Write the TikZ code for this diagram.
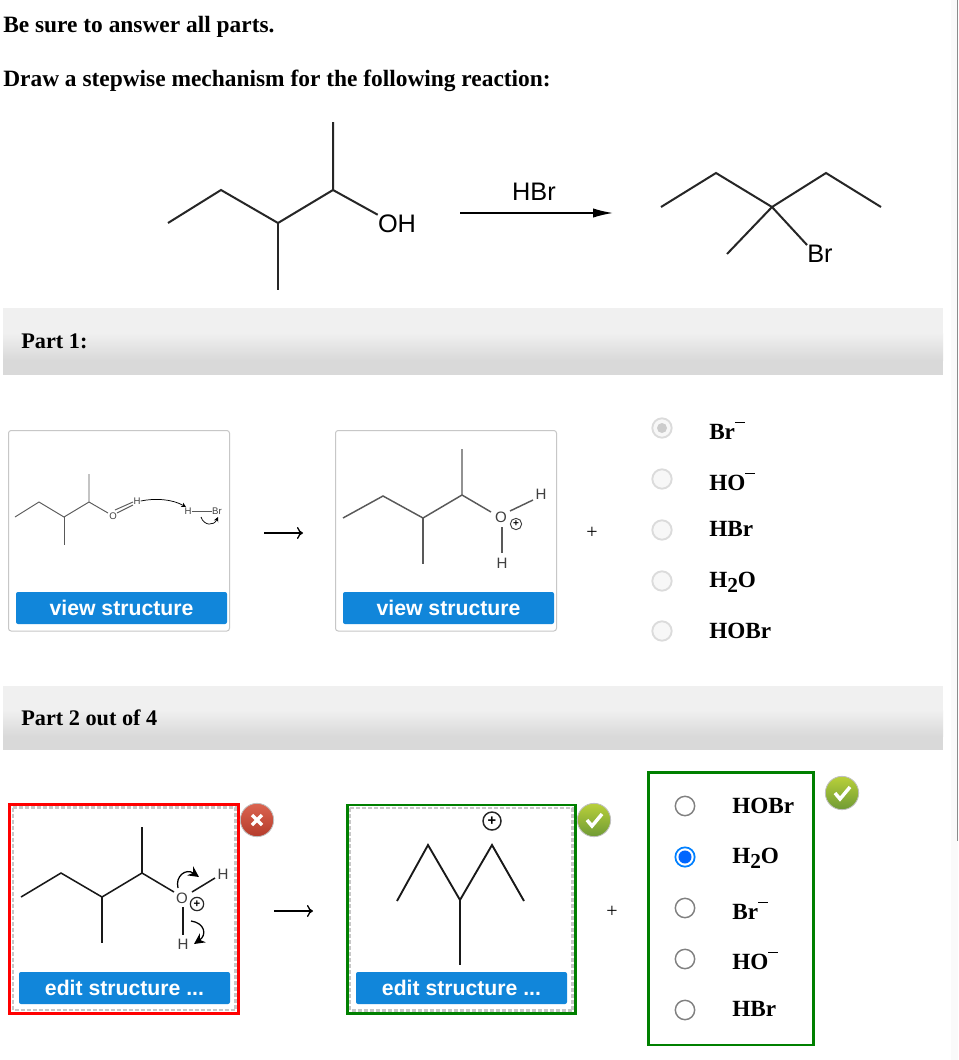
\documentclass[tikz,border=0pt]{standalone}
\usepackage{fontspec}
\setmainfont{Liberation Serif}
\setsansfont{Liberation Sans}
\usetikzlibrary{arrows.meta,shadings}
\definecolor{btn}{HTML}{1186DA}
\definecolor{okgreen}{HTML}{008000}
\definecolor{bandtop}{HTML}{F0F0F0}
\definecolor{bandbot}{HTML}{D9D9D9}
\definecolor{oktop}{HTML}{B9D03A}
\definecolor{okbot}{HTML}{6F9A35}
\definecolor{notop}{HTML}{DB6450}
\definecolor{nobot}{HTML}{B53C2C}
\newcommand\supm{\raisebox{12.3pt}{\rule{7.5pt}{0.8pt}}}
\newcommand\subtwo{\raisebox{-4pt}{\fontsize{16pt}{18pt}\selectfont 2}}
\tikzset{
  x=0.75pt,y=-0.75pt,
  head/.style={font=\fontsize{17.55pt}{20pt}\selectfont\bfseries,anchor=base west,inner sep=0pt},
  parthead/.style={font=\fontsize{16.7pt}{20pt}\selectfont\bfseries,anchor=base west,inner sep=0pt},
  opt/.style={font=\fontsize{17.4pt}{20pt}\selectfont\bfseries,anchor=base west,inner sep=0pt},
  big/.style={font=\sffamily\fontsize{19pt}{20pt}\selectfont,inner sep=0pt},
  atomA/.style={font=\sffamily\fontsize{7.2pt}{9pt}\selectfont,inner sep=0pt,text=black!75},
  atomB/.style={font=\sffamily\fontsize{11.3pt}{12pt}\selectfont,inner sep=0pt,text=black!75},
  bondmain/.style={line width=1.5pt,black!85},
  bondA/.style={line width=0.7pt,black!65},
  bondB/.style={line width=1.1pt,black!65},
  bondC/.style={line width=1.15pt,black!90},
  btnnode/.style={fill=btn,rounded corners=1.5pt,text=white,font=\sffamily\bfseries\fontsize{15.9pt}{18pt}\selectfont,inner sep=0pt,minimum width=158.25pt,minimum height=24pt},
  panel/.style={draw=black!22,line width=0.75pt,rounded corners=2pt,fill=white},
  dashbox/.style={draw=black!22,line width=1.9pt,dash pattern=on 3pt off 1.5pt},
  radioA/.style={circle,draw=black!14,line width=1.4pt,fill=black!3,minimum size=14.5pt,inner sep=0pt},
  radioB/.style={circle,draw=black!50,line width=1.1pt,fill=white,minimum size=14.5pt,inner sep=0pt},
  plainarrow/.style={-{To[length=4.5pt,width=9pt]},line width=1pt},
  curly/.style={line width=0.95pt,-{Stealth[length=8pt,width=8pt]}},
  curlysmall/.style={line width=0.55pt,-{Stealth[length=3.5pt,width=3.5pt]}},
  plus/.style={font=\fontsize{15pt}{16pt}\selectfont,inner sep=0pt},
  okbadge/.style={circle,minimum size=25pt,inner sep=0pt,top color=oktop,bottom color=okbot,draw=black!25,line width=0.6pt},
  nobadge/.style={circle,minimum size=25pt,inner sep=0pt,top color=notop,bottom color=nobot,draw=black!25,line width=0.6pt},
}
\begin{document}
\begin{tikzpicture}
\useasboundingbox (0,0) rectangle (958,1060);
\fill[white] (0,0) rectangle (958,1060);
% page edge
\fill[black!2] (951,0) rectangle (958,1060);
\fill[black!45] (957,0) rectangle (958,841);
% headings
\node[head] (q1) at (3,32) {Be sure to answer all parts.};
\node[head] (q2) at (3,86) {Draw a stepwise mechanism for the following reaction:};
% reaction
\draw[bondmain,line join=miter] (168,223)--(221,190)--(278,223)--(333,190)--(333,122);
\draw[bondmain] (278,223)--(278,290);
\node[big] (oh) at (397,224) {OH};
\draw[bondmain] (333,190)--(oh.north west);
\coordinate (rs) at (460,213);
\coordinate (re) at (613,213);
\draw[line width=1.1pt,-{Latex[length=15pt,width=7pt]}] (rs)--(re);
\node[big] (hbr) at (534,192) {HBr};
\draw[bondmain,line join=miter] (661,207)--(716,173)--(772,207)--(826,173)--(881,207);
\draw[bondmain] (772,207)--(727,254);
\node[big] (br) at (820,254) {Br};
\draw[bondmain] (772,207)--(br.north west);
% band 1
\fill[bandtop] (3,308) rectangle (943,333);
\shade[top color=bandtop,bottom color=bandbot] (3,333) rectangle (943,360);
\fill[bandbot] (3,360) rectangle (943,375);
\node[parthead] (p1) at (21,348) {Part 1:};
% panel 1
\draw[panel] (8.5,430.5) rectangle (229.5,631);
\draw[bondA,line join=miter] (15,517)--(39,502)--(64,517)--(89,502)--(89,474);
\draw[bondA] (64,517)--(64,545);
\draw[bondA] (89,502)--(108,513);
\node[atomA] (a1o) at (113,516) {O};
\node[atomA] (a1h) at (137,501) {H};
\draw[bondA] (115,510)--(133,502);
\draw[bondA] (117,513)--(133,505);
\node[atomA] (a1h2) at (188,511) {H};
\node[atomA] (a1br) at (217,511) {Br};
\draw[bondA] (a1h2)--(a1br);
\draw[curlysmall,black] (a1h.east) .. controls (155,498) and (172,499) .. (186,507);
\draw[curlysmall,black] (201,517) .. controls (204,526) and (214,526) .. (218,517);
\node[btnnode] (b1) at (121.5,608) {\raisebox{.75pt}{view structure}};
% arrow 1
\coordinate (a1s) at (264,533);
\coordinate (a1e) at (303,533);
\draw[plainarrow] (a1s)--(a1e);
% panel 2
\draw[panel] (335.5,430.5) rectangle (556.5,631);
\draw[bondB,line join=miter] (343,518)--(383,496)--(423,518)--(462,495)--(462,449);
\draw[bondB] (423,518)--(423,564);
\draw[bondB] (462,495)--(491,512);
\node[atomB] (a2o) at (501,517) {O};
\node[atomB] (a2h) at (541,494) {H};
\node[atomB] (a2h2) at (502,563) {H};
\draw[bondB] (510,511)--(533,500);
\draw[bondB] (502,527)--(502,553);
\node[circle,draw=black!75,line width=0.7pt,minimum size=8.5pt,inner sep=0pt,font=\sffamily\bfseries\fontsize{7.5pt}{7.5pt}\selectfont] (a2p) at (516,524) {+};
\node[btnnode] (b2) at (448.5,608) {\raisebox{.75pt}{view structure}};
\node[plus] (plus1) at (592,533) {+};
% radios 1
\node[radioA] (r11) at (662,428) {};
\fill[black!20] (r11) circle (3.75pt);
\node[radioA] (r12) at (662,479) {};
\node[radioA] (r13) at (662,530) {};
\node[radioA] (r14) at (662,581) {};
\node[radioA] (r15) at (662,631) {};
\node[opt] (t11) at (709,439) {Br\supm};
\node[opt] (t12) at (709,490) {HO\supm};
\node[opt] (t13) at (709,536) {HBr};
\node[opt] (t14) at (709,587) {H\subtwo O};
\node[opt] (t15) at (709,638) {HOBr};
% band 2
\fill[bandtop] (3,686) rectangle (943,710);
\shade[top color=bandtop,bottom color=bandbot] (3,710) rectangle (943,736);
\fill[bandbot] (3,736) rectangle (943,750);
\node[parthead] (p2) at (21,725) {Part 2 out of 4};
% panel 3
\draw[dashbox] (13,807.5) rectangle (235.5,1010);
\draw[red,line width=2.2pt] (9.5,804.5) rectangle (238.5,1013.5);
\draw[bondC,line join=miter] (21,897)--(61,873)--(102,897)--(142,873)--(142,827);
\draw[bondC] (102,897)--(102,943);
\draw[bondC] (142,873)--(174,892);
\node[atomB] (a3o) at (182,898) {O};
\node[atomB] (a3h) at (223,874) {H};
\node[atomB] (a3h2) at (183,944) {H};
\draw[bondC] (192,892)--(215,878);
\draw[bondC] (183,907)--(183,935);
\node[circle,draw=black!85,line width=0.9pt,minimum size=10pt,inner sep=0pt,font=\sffamily\bfseries\fontsize{8.5pt}{8.5pt}\selectfont] (a3p) at (197,904) {+};
\draw[curly] (178,888) .. controls (175,876) and (186,868) .. (199,877);
\draw[curly] (191,921) .. controls (205,923) and (207,935) .. (194,944);
\node[btnnode] (b3) at (124.5,988) {\raisebox{.75pt}{edit structure ...}};
\node[nobadge] (xb) at (257,820) {};
\draw[white,line width=2.6pt] (252,815)--(262,825) (262,815)--(252,825);
% arrow 2
\coordinate (a2s) at (274,911);
\coordinate (a2e) at (313,911);
\draw[plainarrow] (a2s)--(a2e);
% panel 4
\draw[dashbox] (350,808) rectangle (572.5,1010.5);
\draw[okgreen,line width=2.2pt] (347.5,805) rectangle (575.5,1013.5);
\draw[bondC,line join=miter,line width=1.4pt] (397,901)--(428,845)--(460,900)--(492,845)--(524,901);
\draw[bondC,line width=1.6pt] (460,900)--(460,965);
\node[circle,draw=black!85,line width=1.1pt,minimum size=13.5pt,inner sep=0pt,font=\sffamily\bfseries\fontsize{11pt}{11pt}\selectfont] (a4p) at (492,821) {+};
\node[btnnode] (b4) at (461.5,988) {\raisebox{.75pt}{edit structure ...}};
\node[okbadge] (ck1) at (594,820) {};
\draw[white,line width=2.6pt] (587,820)--(592,826)--(602,814);
\node[plus] (plus2) at (612,912) {+};
% radios 2
\draw[okgreen,line width=2.2pt] (648.5,772.5) rectangle (813.5,1045);
\node[radioB] (r21) at (685,806) {};
\node[radioB,draw=blue!50!cyan,line width=1.3pt] (r22) at (685,857) {};
\fill[blue!60!cyan] (r22) circle (4.9pt);
\node[radioB] (r23) at (685,908) {};
\node[radioB] (r24) at (685,959) {};
\node[radioB] (r25) at (685,1010) {};
\node[opt] (t21) at (732,813) {HOBr};
\node[opt] (t22) at (732,863) {H\subtwo O};
\node[opt] (t23) at (732,919) {Br\supm};
\node[opt] (t24) at (732,969) {HO\supm};
\node[opt] (t25) at (732,1016) {HBr};
\node[okbadge] (ck2) at (842,793) {};
\draw[white,line width=2.6pt] (835,793)--(840,799)--(850,787);
\end{tikzpicture}
\end{document}
